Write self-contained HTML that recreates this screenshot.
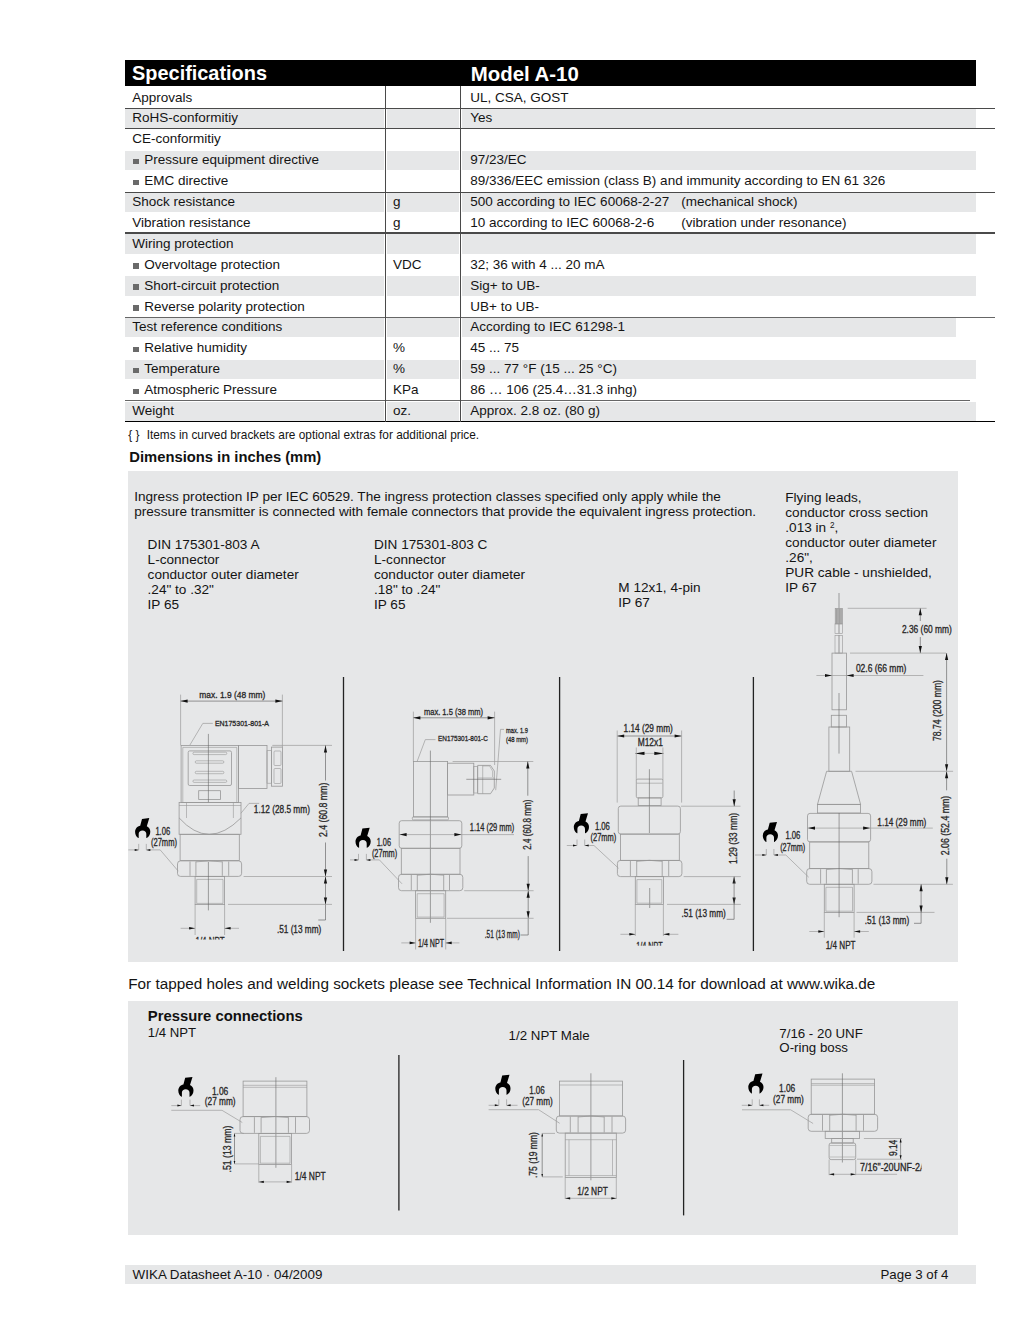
<!DOCTYPE html>
<html><head><meta charset="utf-8"><style>
html,body{margin:0;padding:0;background:#fff;}
body{width:1024px;height:1324px;position:relative;overflow:hidden;font-family:"Liberation Sans",sans-serif;}
.t{position:absolute;white-space:pre;line-height:1;}
sup{font-size:60%;vertical-align:0;position:relative;top:-0.45em;}
</style></head><body>
<div style="position:absolute;left:125.00px;top:59.50px;width:850.80px;height:26.40px;background:#000"></div>
<div class="t" style="left:132.10px;top:64.45px;font-size:19.9px;font-weight:bold;color:#fff;">Specifications</div>
<div class="t" style="left:470.80px;top:64.03px;font-size:20.4px;font-weight:bold;color:#fff;">Model A-10</div>
<div class="t" style="left:132.20px;top:90.57px;font-size:13.5px;color:#141414;">Approvals</div>
<div class="t" style="left:470.30px;top:90.57px;font-size:13.5px;color:#141414;">UL, CSA, GOST</div>
<div style="position:absolute;left:125.00px;top:108.90px;width:259.20px;height:19.50px;background:#e6e7e8"></div>
<div style="position:absolute;left:387.00px;top:108.90px;width:71.80px;height:19.50px;background:#e6e7e8"></div>
<div style="position:absolute;left:461.80px;top:108.90px;width:514.00px;height:19.50px;background:#e6e7e8"></div>
<div class="t" style="left:132.20px;top:111.47px;font-size:13.5px;color:#141414;">RoHS-conformitiy</div>
<div class="t" style="left:470.30px;top:111.47px;font-size:13.5px;color:#141414;">Yes</div>
<div class="t" style="left:132.20px;top:132.37px;font-size:13.5px;color:#141414;">CE-conformitiy</div>
<div style="position:absolute;left:125.00px;top:150.70px;width:259.20px;height:19.50px;background:#e6e7e8"></div>
<div style="position:absolute;left:387.00px;top:150.70px;width:71.80px;height:19.50px;background:#e6e7e8"></div>
<div style="position:absolute;left:461.80px;top:150.70px;width:514.00px;height:19.50px;background:#e6e7e8"></div>
<div style="position:absolute;left:133.00px;top:158.70px;width:6.00px;height:5.60px;background:#6a6a6a"></div>
<div class="t" style="left:144.30px;top:153.27px;font-size:13.5px;color:#141414;">Pressure equipment directive</div>
<div class="t" style="left:470.30px;top:153.27px;font-size:13.5px;color:#141414;">97/23/EC</div>
<div style="position:absolute;left:133.00px;top:179.60px;width:6.00px;height:5.60px;background:#6a6a6a"></div>
<div class="t" style="left:144.30px;top:174.17px;font-size:13.5px;color:#141414;">EMC directive</div>
<div class="t" style="left:470.30px;top:174.17px;font-size:13.5px;color:#141414;">89/336/EEC emission (class B) and immunity according to EN 61 326</div>
<div style="position:absolute;left:125.00px;top:192.50px;width:259.20px;height:19.50px;background:#e6e7e8"></div>
<div style="position:absolute;left:387.00px;top:192.50px;width:71.80px;height:19.50px;background:#e6e7e8"></div>
<div style="position:absolute;left:461.80px;top:192.50px;width:514.00px;height:19.50px;background:#e6e7e8"></div>
<div class="t" style="left:132.20px;top:195.07px;font-size:13.5px;color:#141414;">Shock resistance</div>
<div class="t" style="left:393.00px;top:195.07px;font-size:13.5px;color:#141414;">g</div>
<div class="t" style="left:470.30px;top:195.07px;font-size:13.5px;color:#141414;">500 according to IEC 60068-2-27</div>
<div class="t" style="left:132.20px;top:215.97px;font-size:13.5px;color:#141414;">Vibration resistance</div>
<div class="t" style="left:393.00px;top:215.97px;font-size:13.5px;color:#141414;">g</div>
<div class="t" style="left:470.30px;top:215.97px;font-size:13.5px;color:#141414;">10 according to IEC 60068-2-6</div>
<div style="position:absolute;left:125.00px;top:234.30px;width:259.20px;height:19.50px;background:#e6e7e8"></div>
<div style="position:absolute;left:387.00px;top:234.30px;width:71.80px;height:19.50px;background:#e6e7e8"></div>
<div style="position:absolute;left:461.80px;top:234.30px;width:514.00px;height:19.50px;background:#e6e7e8"></div>
<div class="t" style="left:132.20px;top:236.87px;font-size:13.5px;color:#141414;">Wiring protection</div>
<div style="position:absolute;left:133.00px;top:263.20px;width:6.00px;height:5.60px;background:#6a6a6a"></div>
<div class="t" style="left:144.30px;top:257.77px;font-size:13.5px;color:#141414;">Overvoltage protection</div>
<div class="t" style="left:393.00px;top:257.77px;font-size:13.5px;color:#141414;">VDC</div>
<div class="t" style="left:470.30px;top:257.77px;font-size:13.5px;color:#141414;">32; 36 with 4 ... 20 mA</div>
<div style="position:absolute;left:125.00px;top:276.10px;width:259.20px;height:19.50px;background:#e6e7e8"></div>
<div style="position:absolute;left:387.00px;top:276.10px;width:71.80px;height:19.50px;background:#e6e7e8"></div>
<div style="position:absolute;left:461.80px;top:276.10px;width:514.00px;height:19.50px;background:#e6e7e8"></div>
<div style="position:absolute;left:133.00px;top:284.10px;width:6.00px;height:5.60px;background:#6a6a6a"></div>
<div class="t" style="left:144.30px;top:278.67px;font-size:13.5px;color:#141414;">Short-circuit protection</div>
<div class="t" style="left:470.30px;top:278.67px;font-size:13.5px;color:#141414;">Sig+ to UB-</div>
<div style="position:absolute;left:133.00px;top:305.00px;width:6.00px;height:5.60px;background:#6a6a6a"></div>
<div class="t" style="left:144.30px;top:299.57px;font-size:13.5px;color:#141414;">Reverse polarity protection</div>
<div class="t" style="left:470.30px;top:299.57px;font-size:13.5px;color:#141414;">UB+ to UB-</div>
<div style="position:absolute;left:125.00px;top:317.90px;width:259.20px;height:19.50px;background:#e6e7e8"></div>
<div style="position:absolute;left:387.00px;top:317.90px;width:71.80px;height:19.50px;background:#e6e7e8"></div>
<div style="position:absolute;left:461.80px;top:317.90px;width:493.80px;height:19.50px;background:#e6e7e8"></div>
<div class="t" style="left:132.20px;top:320.47px;font-size:13.5px;color:#141414;">Test reference conditions</div>
<div class="t" style="left:470.30px;top:320.47px;font-size:13.5px;color:#141414;">According to IEC 61298-1</div>
<div style="position:absolute;left:133.00px;top:346.80px;width:6.00px;height:5.60px;background:#6a6a6a"></div>
<div class="t" style="left:144.30px;top:341.37px;font-size:13.5px;color:#141414;">Relative humidity</div>
<div class="t" style="left:393.00px;top:341.37px;font-size:13.5px;color:#141414;">%</div>
<div class="t" style="left:470.30px;top:341.37px;font-size:13.5px;color:#141414;">45 ... 75</div>
<div style="position:absolute;left:125.00px;top:359.70px;width:259.20px;height:19.50px;background:#e6e7e8"></div>
<div style="position:absolute;left:387.00px;top:359.70px;width:71.80px;height:19.50px;background:#e6e7e8"></div>
<div style="position:absolute;left:461.80px;top:359.70px;width:514.00px;height:19.50px;background:#e6e7e8"></div>
<div style="position:absolute;left:133.00px;top:367.70px;width:6.00px;height:5.60px;background:#6a6a6a"></div>
<div class="t" style="left:144.30px;top:362.27px;font-size:13.5px;color:#141414;">Temperature</div>
<div class="t" style="left:393.00px;top:362.27px;font-size:13.5px;color:#141414;">%</div>
<div class="t" style="left:470.30px;top:362.27px;font-size:13.5px;color:#141414;">59 ... 77 °F (15 ... 25 °C)</div>
<div style="position:absolute;left:133.00px;top:388.60px;width:6.00px;height:5.60px;background:#6a6a6a"></div>
<div class="t" style="left:144.30px;top:383.17px;font-size:13.5px;color:#141414;">Atmospheric Pressure</div>
<div class="t" style="left:393.00px;top:383.17px;font-size:13.5px;color:#141414;">KPa</div>
<div class="t" style="left:470.30px;top:383.17px;font-size:13.5px;color:#141414;">86 … 106 (25.4…31.3 inhg)</div>
<div style="position:absolute;left:125.00px;top:401.50px;width:259.20px;height:19.50px;background:#e6e7e8"></div>
<div style="position:absolute;left:387.00px;top:401.50px;width:71.80px;height:19.50px;background:#e6e7e8"></div>
<div style="position:absolute;left:461.80px;top:401.50px;width:514.00px;height:19.50px;background:#e6e7e8"></div>
<div class="t" style="left:132.20px;top:404.07px;font-size:13.5px;color:#141414;">Weight</div>
<div class="t" style="left:393.00px;top:404.07px;font-size:13.5px;color:#141414;">oz.</div>
<div class="t" style="left:470.30px;top:404.07px;font-size:13.5px;color:#141414;">Approx. 2.8 oz. (80 g)</div>
<div class="t" style="left:681.30px;top:195.07px;font-size:13.5px;color:#141414;">(mechanical shock)</div>
<div class="t" style="left:681.30px;top:215.97px;font-size:13.5px;color:#141414;">(vibration under resonance)</div>
<div style="position:absolute;left:125.00px;top:107.55px;width:870.20px;height:1.30px;background:#4a4a4a"></div>
<div style="position:absolute;left:125.00px;top:127.65px;width:870.20px;height:1.30px;background:#4a4a4a"></div>
<div style="position:absolute;left:125.00px;top:192.05px;width:870.20px;height:1.30px;background:#4a4a4a"></div>
<div style="position:absolute;left:125.00px;top:232.45px;width:870.20px;height:1.30px;background:#4a4a4a"></div>
<div style="position:absolute;left:125.00px;top:317.15px;width:870.20px;height:1.30px;background:#666"></div>
<div style="position:absolute;left:125.00px;top:400.05px;width:844.80px;height:1.30px;background:#666"></div>
<div style="position:absolute;left:125.00px;top:420.80px;width:870.20px;height:1.60px;background:#000"></div>
<div style="position:absolute;left:385.00px;top:85.90px;width:1.30px;height:335.70px;background:#4a4a4a"></div>
<div style="position:absolute;left:459.70px;top:85.90px;width:1.30px;height:335.70px;background:#4a4a4a"></div>
<div class="t" style="left:128.20px;top:430.27px;font-size:11.85px;color:#141414;">{ }</div>
<div class="t" style="left:146.70px;top:430.27px;font-size:11.85px;color:#141414;">Items in curved brackets are optional extras for additional price.</div>
<div class="t" style="left:129.30px;top:449.89px;font-size:14.78px;font-weight:bold;color:#111;">Dimensions in inches (mm)</div>
<div style="position:absolute;left:128.20px;top:470.90px;width:829.60px;height:491.10px;background:#e6e7e8"></div>
<div class="t" style="left:134.20px;top:489.99px;font-size:13.6px;color:#141414;">Ingress protection IP per IEC 60529. The ingress protection classes specified only apply while the</div>
<div class="t" style="left:134.20px;top:504.79px;font-size:13.6px;color:#141414;">pressure transmitter is connected with female connectors that provide the equivalent ingress protection.</div>
<div class="t" style="left:147.60px;top:538.39px;font-size:13.6px;color:#141414;">DIN 175301-803 A</div>
<div class="t" style="left:147.60px;top:553.29px;font-size:13.6px;color:#141414;">L-connector</div>
<div class="t" style="left:147.60px;top:568.19px;font-size:13.6px;color:#141414;">conductor outer diameter</div>
<div class="t" style="left:147.60px;top:583.09px;font-size:13.6px;color:#141414;">.24&quot; to .32&quot;</div>
<div class="t" style="left:147.60px;top:597.99px;font-size:13.6px;color:#141414;">IP 65</div>
<div class="t" style="left:374.00px;top:538.39px;font-size:13.6px;color:#141414;">DIN 175301-803 C</div>
<div class="t" style="left:374.00px;top:553.29px;font-size:13.6px;color:#141414;">L-connector</div>
<div class="t" style="left:374.00px;top:568.19px;font-size:13.6px;color:#141414;">conductor outer diameter</div>
<div class="t" style="left:374.00px;top:583.09px;font-size:13.6px;color:#141414;">.18&quot; to .24&quot;</div>
<div class="t" style="left:374.00px;top:597.99px;font-size:13.6px;color:#141414;">IP 65</div>
<div class="t" style="left:618.30px;top:580.79px;font-size:13.6px;color:#141414;">M 12x1, 4-pin</div>
<div class="t" style="left:618.30px;top:595.69px;font-size:13.6px;color:#141414;">IP 67</div>
<div class="t" style="left:785.30px;top:490.79px;font-size:13.6px;color:#141414;">Flying leads,</div>
<div class="t" style="left:785.30px;top:505.79px;font-size:13.6px;color:#141414;">conductor cross section</div>
<div class="t" style="left:785.30px;top:520.79px;font-size:13.6px;color:#141414;">.013 in <sup>2</sup>,</div>
<div class="t" style="left:785.30px;top:535.79px;font-size:13.6px;color:#141414;">conductor outer diameter</div>
<div class="t" style="left:785.30px;top:550.79px;font-size:13.6px;color:#141414;">.26&quot;,</div>
<div class="t" style="left:785.30px;top:565.79px;font-size:13.6px;color:#141414;">PUR cable - unshielded,</div>
<div class="t" style="left:785.30px;top:580.79px;font-size:13.6px;color:#141414;">IP 67</div>
<div class="t" style="left:128.20px;top:975.55px;font-size:15.3px;color:#141414;">For tapped holes and welding sockets please see Technical Information IN 00.14 for download at www.wika.de</div>
<div style="position:absolute;left:128.20px;top:1001.00px;width:829.60px;height:234.00px;background:#e6e7e8"></div>
<div class="t" style="left:147.80px;top:1008.65px;font-size:14.83px;font-weight:bold;color:#111;">Pressure connections</div>
<div class="t" style="left:147.80px;top:1025.93px;font-size:13.2px;color:#141414;">1/4 NPT</div>
<div class="t" style="left:508.60px;top:1029.24px;font-size:13.3px;color:#141414;">1/2 NPT Male</div>
<div class="t" style="left:779.30px;top:1026.54px;font-size:13.3px;color:#141414;">7/16 - 20 UNF</div>
<div class="t" style="left:779.30px;top:1040.94px;font-size:13.3px;color:#141414;">O-ring boss</div>
<div style="position:absolute;left:124.70px;top:1265.10px;width:851.10px;height:18.70px;background:#e6e7e8"></div>
<div class="t" style="left:132.60px;top:1267.56px;font-size:13.4px;color:#141414;">WIKA Datasheet A-10 · 04/2009</div>
<div class="t" style="left:880.50px;top:1267.74px;font-size:13.3px;color:#141414;">Page 3 of 4</div>
<svg width="1024" height="1324" viewBox="0 0 1024 1324" font-family="Liberation Sans, sans-serif" style="position:absolute;left:0;top:0;white-space:pre"><line x1="180.6" y1="694.6" x2="180.6" y2="745.4" stroke="#9c9c9c" stroke-width="0.7"/><line x1="282.4" y1="694.6" x2="282.4" y2="747" stroke="#9c9c9c" stroke-width="0.7"/><line x1="180.6" y1="701.1" x2="282.4" y2="701.1" stroke="#555" stroke-width="0.6"/><polygon points="180.60,701.10 187.60,699.50 187.60,702.70" fill="#111"/><polygon points="282.40,701.10 275.40,699.50 275.40,702.70" fill="#111"/><text x="199.3" y="697.6" font-size="9.3" fill="#262626" stroke="#262626" stroke-width="0.3" textLength="66" lengthAdjust="spacingAndGlyphs">max. 1.9 (48 mm)</text><polyline points="189.9,745 202.8,723.4 212.8,723.4" fill="none" stroke="#9c9c9c" stroke-width="0.7"/><text x="214.9" y="725.5" font-size="8" fill="#262626" stroke="#262626" stroke-width="0.3" textLength="54" lengthAdjust="spacingAndGlyphs">EN175301-801-A</text><rect x="181.1" y="745.4" width="57.50" height="57.10" rx="0" fill="none" stroke="#979797" stroke-width="0.8"/><line x1="182.8" y1="747.4" x2="182.8" y2="802.5" stroke="#979797" stroke-width="0.6"/><line x1="236.8" y1="747.4" x2="236.8" y2="802.5" stroke="#979797" stroke-width="0.6"/><line x1="182.8" y1="747.4" x2="236.8" y2="747.4" stroke="#979797" stroke-width="0.6"/><rect x="188.2" y="750.9" width="43.30" height="34.60" rx="1.5" fill="none" stroke="#979797" stroke-width="0.8"/><rect x="192.9" y="752.2" width="33.90" height="2.40" rx="1.2" fill="none" stroke="#979797" stroke-width="0.6"/><rect x="195.2" y="760.8" width="28.70" height="2.40" rx="1.2" fill="none" stroke="#979797" stroke-width="0.6"/><rect x="195.2" y="771.3" width="28.70" height="2.40" rx="1.2" fill="none" stroke="#979797" stroke-width="0.6"/><rect x="192.9" y="780.0" width="33.90" height="2.40" rx="1.2" fill="none" stroke="#979797" stroke-width="0.6"/><rect x="198.7" y="790.7" width="21.90" height="8.80" rx="0" fill="none" stroke="#979797" stroke-width="0.8"/><line x1="208.4" y1="733.9" x2="208.4" y2="802.5" stroke="#666" stroke-width="0.6"/><rect x="238.6" y="745.4" width="28.40" height="43.00" rx="0" fill="none" stroke="#979797" stroke-width="0.8"/><rect x="267" y="750.7" width="4.40" height="32.50" rx="0" fill="none" stroke="#979797" stroke-width="0.6"/><rect x="271.4" y="747.1" width="11.00" height="39.10" rx="0" fill="none" stroke="#979797" stroke-width="0.8"/><rect x="274" y="751" width="7.00" height="14.50" rx="1" fill="none" stroke="#979797" stroke-width="0.6"/><rect x="274" y="768.5" width="7.00" height="15.00" rx="1" fill="none" stroke="#979797" stroke-width="0.6"/><rect x="179.1" y="802.5" width="61.90" height="31.80" rx="0" fill="none" stroke="#979797" stroke-width="0.8"/><line x1="179.1" y1="805.5" x2="241" y2="805.5" stroke="#979797" stroke-width="0.6"/><line x1="186.5" y1="802.5" x2="186.5" y2="818" stroke="#979797" stroke-width="0.6"/><line x1="233.4" y1="802.5" x2="233.4" y2="818" stroke="#979797" stroke-width="0.6"/><path d="M179.1,817.9 Q208.5,850.7 241,817.9" fill="none" stroke="#979797" stroke-width="0.8"/><rect x="180.1" y="834.3" width="59.20" height="26.30" rx="0" fill="none" stroke="#979797" stroke-width="0.8"/><rect x="177.5" y="860.9" width="64.10" height="15.50" rx="3" fill="none" stroke="#979797" stroke-width="0.8"/><line x1="190" y1="861.5" x2="190" y2="875.8" stroke="#979797" stroke-width="0.8"/><line x1="195.9" y1="861.5" x2="195.9" y2="875.8" stroke="#979797" stroke-width="0.8"/><line x1="222.3" y1="861.5" x2="222.3" y2="875.8" stroke="#979797" stroke-width="0.8"/><line x1="228.7" y1="861.5" x2="228.7" y2="875.8" stroke="#979797" stroke-width="0.8"/><path d="M195.9,861.9 Q209.10000000000002,859.6999999999999 222.3,861.9" fill="none" stroke="#979797" stroke-width="0.7"/><rect x="195.1" y="876.4" width="29.50" height="28.20" rx="0" fill="none" stroke="#979797" stroke-width="0.8"/><line x1="196.7" y1="879.4" x2="196.7" y2="903.6" stroke="#979797" stroke-width="0.6"/><line x1="223.0" y1="879.4" x2="223.0" y2="903.6" stroke="#979797" stroke-width="0.6"/><line x1="196.7" y1="879.4" x2="223.0" y2="879.4" stroke="#979797" stroke-width="0.6"/><line x1="196.7" y1="903.4" x2="223.0" y2="903.4" stroke="#979797" stroke-width="0.6"/><line x1="208.4" y1="862" x2="208.4" y2="910.4" stroke="#666" stroke-width="0.6"/><line x1="195.1" y1="904.6" x2="195.1" y2="935" stroke="#9c9c9c" stroke-width="0.7"/><line x1="224.6" y1="904.6" x2="224.6" y2="935" stroke="#9c9c9c" stroke-width="0.7"/><line x1="180.6" y1="928.3" x2="195.1" y2="928.3" stroke="#9c9c9c" stroke-width="0.7"/><polygon points="195.10,928.30 189.10,927.00 189.10,929.60" fill="#111"/><line x1="224.6" y1="928.3" x2="239" y2="928.3" stroke="#9c9c9c" stroke-width="0.7"/><polygon points="224.60,928.30 230.60,927.00 230.60,929.60" fill="#111"/><clipPath id="c1"><rect x="150" y="930" width="120" height="9.6"/></clipPath><text x="195.5" y="944.5" font-size="10" fill="#262626" stroke="#262626" stroke-width="0.3" textLength="29" lengthAdjust="spacingAndGlyphs" clip-path="url(#c1)">1/4 NPT</text><path transform="translate(135.1,818.1) scale(1.0)" d="M6.9,0.8 L14.2,0 L11.7,8.2 C14,9.3 15.2,11.3 15.2,13.6 C15.2,16.5 13.8,18.8 11.6,19.9 L11.2,19.9 L11.2,15.6 C11.2,13.6 9.6,12.3 7.4,12.3 C5.2,12.3 3.6,13.6 3.6,15.6 L3.6,19.9 L3.2,19.9 C1.2,18.8 0,16.5 0,13.6 C0,10.6 2.2,8.2 5.1,7.6 Z" fill="#000"/><text x="155.4" y="834.6" font-size="10" fill="#262626" stroke="#262626" stroke-width="0.3" textLength="14.8" lengthAdjust="spacingAndGlyphs">1.06</text><text x="150.9" y="845.5" font-size="10" fill="#262626" stroke="#262626" stroke-width="0.3" textLength="26.1" lengthAdjust="spacingAndGlyphs">(27mm)</text><line x1="128.3" y1="849.9" x2="138.7" y2="849.9" stroke="#9c9c9c" stroke-width="0.7"/><line x1="146.3" y1="849.9" x2="160.2" y2="849.9" stroke="#9c9c9c" stroke-width="0.7"/><line x1="138.7" y1="843.9" x2="138.7" y2="849.9" stroke="#9c9c9c" stroke-width="0.7"/><line x1="146.3" y1="843.9" x2="146.3" y2="849.9" stroke="#9c9c9c" stroke-width="0.7"/><polygon points="138.70,849.90 134.70,848.90 134.70,850.90" fill="#111"/><polygon points="146.30,849.90 150.30,848.90 150.30,850.90" fill="#111"/><line x1="160.2" y1="849.9" x2="178.3" y2="871.2" stroke="#9c9c9c" stroke-width="0.7"/><text x="253.8" y="813.3" font-size="10" fill="#262626" stroke="#262626" stroke-width="0.3" textLength="56.1" lengthAdjust="spacingAndGlyphs">1.12 (28.5 mm)</text><polyline points="240.9,813.3 249,803.4 259.2,803.4" fill="none" stroke="#9c9c9c" stroke-width="0.7"/><line x1="272.3" y1="745.4" x2="332" y2="745.4" stroke="#9c9c9c" stroke-width="0.7"/><line x1="325.5" y1="745.4" x2="325.5" y2="780.5" stroke="#555" stroke-width="0.6"/><polygon points="325.50,745.40 323.90,752.40 327.10,752.40" fill="#111"/><text transform="translate(327.4,837) rotate(-90)" x="0" y="0" font-size="10.5" fill="#262626" stroke="#262626" stroke-width="0.3" textLength="54.3" lengthAdjust="spacingAndGlyphs">2.4  (60.8 mm)</text><line x1="325.5" y1="842.5" x2="325.5" y2="920" stroke="#555" stroke-width="0.6"/><line x1="318.3" y1="920" x2="325.5" y2="920" stroke="#555" stroke-width="0.6"/><polygon points="325.50,876.50 323.90,869.50 327.10,869.50" fill="#111"/><polygon points="325.50,876.50 323.90,883.50 327.10,883.50" fill="#111"/><polygon points="325.50,904.40 323.90,897.40 327.10,897.40" fill="#111"/><line x1="243.6" y1="876.5" x2="332" y2="876.5" stroke="#9c9c9c" stroke-width="0.7"/><line x1="228" y1="904.4" x2="332" y2="904.4" stroke="#9c9c9c" stroke-width="0.7"/><text x="276.9" y="932.9" font-size="10" fill="#262626" stroke="#262626" stroke-width="0.3" textLength="44.4" lengthAdjust="spacingAndGlyphs">.51 (13 mm)</text><line x1="343.5" y1="677" x2="343.5" y2="951" stroke="#222" stroke-width="1.3"/><line x1="413.4" y1="711.6" x2="413.4" y2="761.5" stroke="#9c9c9c" stroke-width="0.7"/><line x1="494.6" y1="711.6" x2="494.6" y2="765" stroke="#9c9c9c" stroke-width="0.7"/><line x1="413.4" y1="717.8" x2="494.6" y2="717.8" stroke="#555" stroke-width="0.6"/><polygon points="413.40,717.80 420.40,716.20 420.40,719.40" fill="#111"/><polygon points="494.60,717.80 487.60,716.20 487.60,719.40" fill="#111"/><text x="423.9" y="715" font-size="9.3" fill="#262626" stroke="#262626" stroke-width="0.3" textLength="59.2" lengthAdjust="spacingAndGlyphs">max. 1.5 (38 mm)</text><polyline points="417.1,761.5 425.3,739.6 435.5,739.6" fill="none" stroke="#9c9c9c" stroke-width="0.7"/><text x="438" y="741.4" font-size="8" fill="#262626" stroke="#262626" stroke-width="0.3" textLength="49.8" lengthAdjust="spacingAndGlyphs">EN175301-801-C</text><text x="506" y="732.8" font-size="8" fill="#262626" stroke="#262626" stroke-width="0.3" textLength="21.8" lengthAdjust="spacingAndGlyphs">max. 1.9</text><text x="506" y="741.7" font-size="8" fill="#262626" stroke="#262626" stroke-width="0.3" textLength="22" lengthAdjust="spacingAndGlyphs">(48 mm)</text><polyline points="495.7,790.2 500.5,729.4 504,729.4" fill="none" stroke="#9c9c9c" stroke-width="0.7"/><rect x="413.4" y="761.5" width="34.20" height="55.40" rx="0" fill="none" stroke="#979797" stroke-width="0.8"/><rect x="412.3" y="816.9" width="36.20" height="3.00" rx="1" fill="none" stroke="#979797" stroke-width="0.7"/><line x1="452.6" y1="761.5" x2="533.3" y2="761.5" stroke="#9c9c9c" stroke-width="0.7"/><rect x="447.6" y="763.2" width="26.20" height="31.80" rx="0" fill="none" stroke="#979797" stroke-width="0.8"/><rect x="473.8" y="766.3" width="3.90" height="26.70" rx="0" fill="none" stroke="#979797" stroke-width="0.6"/><path d="M477.7,765.4 L490.5,765.4 L494.3,771 L494.3,788 L490.5,793.7 L477.7,793.7 Z" fill="none" stroke="#979797" stroke-width="0.8"/><line x1="482.7" y1="765.4" x2="482.7" y2="793.7" stroke="#979797" stroke-width="0.6"/><line x1="477.7" y1="778" x2="494.3" y2="778" stroke="#979797" stroke-width="0.6"/><path d="M482.7,766 L489.5,766 L492.5,771 L492.5,777" fill="none" stroke="#979797" stroke-width="0.5"/><line x1="466.3" y1="779.3" x2="501.2" y2="779.3" stroke="#666" stroke-width="0.6"/><line x1="430.4" y1="750.6" x2="430.4" y2="922.8" stroke="#666" stroke-width="0.6"/><line x1="527.8" y1="761.5" x2="527.8" y2="795.7" stroke="#555" stroke-width="0.6"/><polygon points="527.80,761.50 526.20,768.50 529.40,768.50" fill="#111"/><text transform="translate(530.8,849.7) rotate(-90)" x="0" y="0" font-size="10.5" fill="#262626" stroke="#262626" stroke-width="0.3" textLength="50.1" lengthAdjust="spacingAndGlyphs">2.4  (60.8 mm)</text><line x1="528.2" y1="856.1" x2="528.2" y2="935" stroke="#555" stroke-width="0.6"/><line x1="520.5" y1="935" x2="528.2" y2="935" stroke="#555" stroke-width="0.6"/><polygon points="528.20,890.70 526.60,883.70 529.80,883.70" fill="#111"/><polygon points="528.20,890.70 526.60,897.70 529.80,897.70" fill="#111"/><polygon points="528.20,918.30 526.60,911.30 529.80,911.30" fill="#111"/><rect x="399.2" y="820.7" width="62.60" height="27.60" rx="2.5" fill="none" stroke="#979797" stroke-width="0.8"/><line x1="399.2" y1="834.6" x2="514" y2="834.6" stroke="#9c9c9c" stroke-width="0.7"/><polygon points="399.60,834.60 406.60,833.00 406.60,836.20" fill="#111"/><polygon points="461.40,834.60 454.40,833.00 454.40,836.20" fill="#111"/><text x="469.8" y="831.3" font-size="10" fill="#262626" stroke="#262626" stroke-width="0.3" textLength="44.5" lengthAdjust="spacingAndGlyphs">1.14 (29 mm)</text><rect x="401.3" y="848.3" width="58.70" height="26.00" rx="0" fill="none" stroke="#979797" stroke-width="0.8"/><rect x="398.5" y="874.3" width="64.30" height="16.40" rx="3" fill="none" stroke="#979797" stroke-width="0.8"/><line x1="411.3" y1="874.9" x2="411.3" y2="890.1" stroke="#979797" stroke-width="0.8"/><line x1="417.3" y1="874.9" x2="417.3" y2="890.1" stroke="#979797" stroke-width="0.8"/><line x1="443.7" y1="874.9" x2="443.7" y2="890.1" stroke="#979797" stroke-width="0.8"/><line x1="449.5" y1="874.9" x2="449.5" y2="890.1" stroke="#979797" stroke-width="0.8"/><path d="M417.3,875.3 Q430.5,873.0999999999999 443.7,875.3" fill="none" stroke="#979797" stroke-width="0.7"/><rect x="415.6" y="890.7" width="30.10" height="27.60" rx="0" fill="none" stroke="#979797" stroke-width="0.8"/><line x1="417.20000000000005" y1="893.7" x2="417.20000000000005" y2="917.3" stroke="#979797" stroke-width="0.6"/><line x1="444.09999999999997" y1="893.7" x2="444.09999999999997" y2="917.3" stroke="#979797" stroke-width="0.6"/><line x1="417.20000000000005" y1="893.7" x2="444.09999999999997" y2="893.7" stroke="#979797" stroke-width="0.6"/><line x1="417.20000000000005" y1="917.0999999999999" x2="444.09999999999997" y2="917.0999999999999" stroke="#979797" stroke-width="0.6"/><line x1="415.6" y1="918.3" x2="415.6" y2="949.5" stroke="#9c9c9c" stroke-width="0.7"/><line x1="445.7" y1="918.3" x2="445.7" y2="949.5" stroke="#9c9c9c" stroke-width="0.7"/><line x1="401.3" y1="942.9" x2="415.6" y2="942.9" stroke="#9c9c9c" stroke-width="0.7"/><polygon points="415.60,942.90 409.60,941.60 409.60,944.20" fill="#111"/><line x1="445.7" y1="942.9" x2="459.4" y2="942.9" stroke="#9c9c9c" stroke-width="0.7"/><polygon points="445.70,942.90 451.70,941.60 451.70,944.20" fill="#111"/><text x="418" y="946.7" font-size="10" fill="#262626" stroke="#262626" stroke-width="0.3" textLength="26" lengthAdjust="spacingAndGlyphs">1/4 NPT</text><line x1="464.2" y1="890.7" x2="533.6" y2="890.7" stroke="#9c9c9c" stroke-width="0.7"/><line x1="447" y1="918.3" x2="533.6" y2="918.3" stroke="#9c9c9c" stroke-width="0.7"/><text x="484.8" y="937.6" font-size="10" fill="#262626" stroke="#262626" stroke-width="0.3" textLength="35" lengthAdjust="spacingAndGlyphs">.51 (13 mm)</text><path transform="translate(355.5,827.8) scale(1.0)" d="M6.9,0.8 L14.2,0 L11.7,8.2 C14,9.3 15.2,11.3 15.2,13.6 C15.2,16.5 13.8,18.8 11.6,19.9 L11.2,19.9 L11.2,15.6 C11.2,13.6 9.6,12.3 7.4,12.3 C5.2,12.3 3.6,13.6 3.6,15.6 L3.6,19.9 L3.2,19.9 C1.2,18.8 0,16.5 0,13.6 C0,10.6 2.2,8.2 5.1,7.6 Z" fill="#000"/><text x="376.7" y="846.2" font-size="10" fill="#262626" stroke="#262626" stroke-width="0.3" textLength="14.3" lengthAdjust="spacingAndGlyphs">1.06</text><text x="371.9" y="856.5" font-size="10" fill="#262626" stroke="#262626" stroke-width="0.3" textLength="25.3" lengthAdjust="spacingAndGlyphs">(27mm)</text><line x1="350" y1="859.9" x2="358.5" y2="859.9" stroke="#9c9c9c" stroke-width="0.7"/><line x1="366.4" y1="859.9" x2="379.4" y2="859.9" stroke="#9c9c9c" stroke-width="0.7"/><line x1="358.5" y1="853.9" x2="358.5" y2="859.9" stroke="#9c9c9c" stroke-width="0.7"/><line x1="366.4" y1="853.9" x2="366.4" y2="859.9" stroke="#9c9c9c" stroke-width="0.7"/><polygon points="358.50,859.90 354.50,858.90 354.50,860.90" fill="#111"/><polygon points="366.40,859.90 370.40,858.90 370.40,860.90" fill="#111"/><line x1="379.4" y1="859.9" x2="402" y2="883.8" stroke="#9c9c9c" stroke-width="0.7"/><line x1="559.6" y1="677" x2="559.6" y2="951" stroke="#222" stroke-width="1.3"/><text x="623.6" y="731.7" font-size="10" fill="#262626" stroke="#262626" stroke-width="0.3" textLength="49.2" lengthAdjust="spacingAndGlyphs">1.14 (29 mm)</text><line x1="617.2" y1="736" x2="681.6" y2="736" stroke="#555" stroke-width="0.6"/><polygon points="617.20,736.00 624.20,734.40 624.20,737.60" fill="#111"/><polygon points="681.60,736.00 674.60,734.40 674.60,737.60" fill="#111"/><line x1="617.2" y1="730.5" x2="617.2" y2="802.6" stroke="#9c9c9c" stroke-width="0.7"/><line x1="681.6" y1="730.5" x2="681.6" y2="802.6" stroke="#9c9c9c" stroke-width="0.7"/><text x="637.7" y="746.3" font-size="10" fill="#262626" stroke="#262626" stroke-width="0.3" textLength="25.2" lengthAdjust="spacingAndGlyphs">M12x1</text><line x1="635" y1="753.4" x2="663.8" y2="753.4" stroke="#9c9c9c" stroke-width="0.6"/><polygon points="635.00,753.40 644.50,751.80 644.50,755.00" fill="#111"/><polygon points="663.80,753.40 654.30,751.80 654.30,755.00" fill="#111"/><line x1="636.3" y1="747.5" x2="636.3" y2="780.3" stroke="#9c9c9c" stroke-width="0.7"/><line x1="662.9" y1="747.5" x2="662.9" y2="780.3" stroke="#9c9c9c" stroke-width="0.7"/><rect x="636.3" y="779.1" width="26.60" height="18.80" rx="1.5" fill="none" stroke="#979797" stroke-width="0.8"/><line x1="636.8" y1="783.2" x2="662.4" y2="783.2" stroke="#979797" stroke-width="0.6"/><rect x="638.2" y="797.9" width="22.90" height="7.60" rx="0" fill="none" stroke="#979797" stroke-width="0.8"/><line x1="649.4" y1="769.2" x2="649.4" y2="833" stroke="#666" stroke-width="0.6"/><line x1="649.7" y1="888" x2="649.7" y2="908" stroke="#666" stroke-width="0.6"/><rect x="618.3" y="806.1" width="62.10" height="28.00" rx="2.5" fill="none" stroke="#979797" stroke-width="0.8"/><rect x="620.4" y="834.1" width="58.90" height="26.30" rx="0" fill="none" stroke="#979797" stroke-width="0.8"/><rect x="617.4" y="860.4" width="64.50" height="16.20" rx="3" fill="none" stroke="#979797" stroke-width="0.8"/><line x1="630.4" y1="861.0" x2="630.4" y2="876.0" stroke="#979797" stroke-width="0.8"/><line x1="636.7" y1="861.0" x2="636.7" y2="876.0" stroke="#979797" stroke-width="0.8"/><line x1="662.2" y1="861.0" x2="662.2" y2="876.0" stroke="#979797" stroke-width="0.8"/><line x1="668.7" y1="861.0" x2="668.7" y2="876.0" stroke="#979797" stroke-width="0.8"/><path d="M636.7,861.4 Q649.45,859.1999999999999 662.2,861.4" fill="none" stroke="#979797" stroke-width="0.7"/><rect x="635.3" y="876.6" width="28.10" height="27.80" rx="0" fill="none" stroke="#979797" stroke-width="0.8"/><line x1="636.9" y1="879.6" x2="636.9" y2="903.4" stroke="#979797" stroke-width="0.6"/><line x1="661.8" y1="879.6" x2="661.8" y2="903.4" stroke="#979797" stroke-width="0.6"/><line x1="636.9" y1="879.6" x2="661.8" y2="879.6" stroke="#979797" stroke-width="0.6"/><line x1="636.9" y1="903.1999999999999" x2="661.8" y2="903.1999999999999" stroke="#979797" stroke-width="0.6"/><line x1="635.3" y1="904.4" x2="635.3" y2="936" stroke="#9c9c9c" stroke-width="0.7"/><line x1="663.4" y1="904.4" x2="663.4" y2="936" stroke="#9c9c9c" stroke-width="0.7"/><line x1="620.4" y1="934.3" x2="635.3" y2="934.3" stroke="#9c9c9c" stroke-width="0.7"/><polygon points="635.30,934.30 629.30,933.00 629.30,935.60" fill="#111"/><line x1="663.4" y1="934.3" x2="678.4" y2="934.3" stroke="#9c9c9c" stroke-width="0.7"/><polygon points="663.40,934.30 669.40,933.00 669.40,935.60" fill="#111"/><clipPath id="c3"><rect x="600" y="935" width="100" height="10.7"/></clipPath><text x="636.2" y="950.0" font-size="10" fill="#262626" stroke="#262626" stroke-width="0.3" textLength="26.4" lengthAdjust="spacingAndGlyphs" clip-path="url(#c3)">1/4 NPT</text><line x1="681" y1="806.2" x2="740.5" y2="806.2" stroke="#9c9c9c" stroke-width="0.7"/><line x1="683.6" y1="876.6" x2="740.8" y2="876.6" stroke="#9c9c9c" stroke-width="0.7"/><line x1="667" y1="904.4" x2="740.8" y2="904.4" stroke="#9c9c9c" stroke-width="0.7"/><line x1="734.2" y1="790.5" x2="734.2" y2="806.2" stroke="#555" stroke-width="0.6"/><polygon points="734.20,806.20 732.60,799.20 735.80,799.20" fill="#111"/><text transform="translate(737.2,864) rotate(-90)" x="0" y="0" font-size="10.5" fill="#262626" stroke="#262626" stroke-width="0.3" textLength="51.2" lengthAdjust="spacingAndGlyphs">1.29  (33 mm)</text><polygon points="734.10,876.60 732.50,883.60 735.70,883.60" fill="#111"/><polygon points="734.10,904.40 732.50,897.40 735.70,897.40" fill="#111"/><line x1="734.1" y1="876.6" x2="734.1" y2="919.3" stroke="#555" stroke-width="0.6"/><line x1="726.7" y1="919.3" x2="734.1" y2="919.3" stroke="#555" stroke-width="0.6"/><text x="681.4" y="916.7" font-size="10" fill="#262626" stroke="#262626" stroke-width="0.3" textLength="44.4" lengthAdjust="spacingAndGlyphs">.51 (13 mm)</text><path transform="translate(573.8,813.3) scale(1.0)" d="M6.9,0.8 L14.2,0 L11.7,8.2 C14,9.3 15.2,11.3 15.2,13.6 C15.2,16.5 13.8,18.8 11.6,19.9 L11.2,19.9 L11.2,15.6 C11.2,13.6 9.6,12.3 7.4,12.3 C5.2,12.3 3.6,13.6 3.6,15.6 L3.6,19.9 L3.2,19.9 C1.2,18.8 0,16.5 0,13.6 C0,10.6 2.2,8.2 5.1,7.6 Z" fill="#000"/><text x="594.9" y="829.7" font-size="10" fill="#262626" stroke="#262626" stroke-width="0.3" textLength="15" lengthAdjust="spacingAndGlyphs">1.06</text><text x="590.5" y="840.7" font-size="10" fill="#262626" stroke="#262626" stroke-width="0.3" textLength="25.8" lengthAdjust="spacingAndGlyphs">(27mm)</text><line x1="566.8" y1="845.5" x2="577" y2="845.5" stroke="#9c9c9c" stroke-width="0.7"/><line x1="584.7" y1="845.5" x2="594" y2="845.5" stroke="#9c9c9c" stroke-width="0.7"/><line x1="577" y1="839.5" x2="577" y2="845.5" stroke="#9c9c9c" stroke-width="0.7"/><line x1="584.7" y1="839.5" x2="584.7" y2="845.5" stroke="#9c9c9c" stroke-width="0.7"/><polygon points="577.00,845.50 573.00,844.50 573.00,846.50" fill="#111"/><polygon points="584.70,845.50 588.70,844.50 588.70,846.50" fill="#111"/><line x1="594" y1="845.5" x2="618.6" y2="868.3" stroke="#9c9c9c" stroke-width="0.7"/><line x1="753.4" y1="677" x2="753.4" y2="951" stroke="#222" stroke-width="1.3"/><line x1="839" y1="593" x2="839" y2="610" stroke="#666" stroke-width="0.6"/><rect x="835.2" y="608.3" width="7.30" height="15.60" rx="0" fill="#b5b5b5" stroke="#979797" stroke-width="0.6"/><line x1="836.5" y1="609" x2="836.5" y2="623.5" stroke="#8a8a8a" stroke-width="0.5"/><line x1="838" y1="609" x2="838" y2="623.5" stroke="#8a8a8a" stroke-width="0.5"/><line x1="839.5" y1="609" x2="839.5" y2="623.5" stroke="#8a8a8a" stroke-width="0.5"/><line x1="841" y1="609" x2="841" y2="623.5" stroke="#8a8a8a" stroke-width="0.5"/><rect x="835" y="623.9" width="4.00" height="9.40" rx="0" fill="none" stroke="#979797" stroke-width="0.6"/><rect x="839" y="623.9" width="3.50" height="9.40" rx="0" fill="none" stroke="#979797" stroke-width="0.6"/><rect x="835" y="635.3" width="4.00" height="17.80" rx="0" fill="none" stroke="#979797" stroke-width="0.6"/><rect x="839" y="635.3" width="3.50" height="17.80" rx="0" fill="none" stroke="#979797" stroke-width="0.6"/><rect x="832" y="653.1" width="14.60" height="56.70" rx="0" fill="none" stroke="#979797" stroke-width="0.8"/><rect x="831.3" y="715.3" width="15.30" height="11.70" rx="0" fill="none" stroke="#979797" stroke-width="0.8"/><rect x="828.9" y="727" width="20.80" height="44.30" rx="0" fill="none" stroke="#979797" stroke-width="0.8"/><line x1="839" y1="693" x2="839" y2="753.6" stroke="#666" stroke-width="0.6"/><polygon points="826.6,771.3 851.6,771.3 860.6,804.4 817.5,804.4" fill="none" stroke="#979797" stroke-width="0.8"/><rect x="817.5" y="804.4" width="43.10" height="8.60" rx="0" fill="none" stroke="#979797" stroke-width="0.8"/><rect x="807.5" y="813.4" width="63.10" height="28.50" rx="2.5" fill="none" stroke="#979797" stroke-width="0.8"/><line x1="807.5" y1="828.1" x2="932.8" y2="828.1" stroke="#9c9c9c" stroke-width="0.7"/><polygon points="808.00,828.10 815.00,826.50 815.00,829.70" fill="#111"/><polygon points="870.10,828.10 863.10,826.50 863.10,829.70" fill="#111"/><text x="877.3" y="826.3" font-size="10" fill="#262626" stroke="#262626" stroke-width="0.3" textLength="49" lengthAdjust="spacingAndGlyphs">1.14 (29 mm)</text><rect x="809.7" y="841.9" width="59.10" height="26.70" rx="0" fill="none" stroke="#979797" stroke-width="0.8"/><rect x="806.7" y="868.6" width="65.20" height="15.70" rx="3" fill="none" stroke="#979797" stroke-width="0.8"/><line x1="820.6" y1="869.2" x2="820.6" y2="883.6999999999999" stroke="#979797" stroke-width="0.8"/><line x1="826.4" y1="869.2" x2="826.4" y2="883.6999999999999" stroke="#979797" stroke-width="0.8"/><line x1="852.4" y1="869.2" x2="852.4" y2="883.6999999999999" stroke="#979797" stroke-width="0.8"/><line x1="858.2" y1="869.2" x2="858.2" y2="883.6999999999999" stroke="#979797" stroke-width="0.8"/><path d="M826.4,869.6 Q839.4,867.4 852.4,869.6" fill="none" stroke="#979797" stroke-width="0.7"/><rect x="824.3" y="884.3" width="29.80" height="28.10" rx="0" fill="none" stroke="#979797" stroke-width="0.8"/><line x1="825.9" y1="887.3" x2="825.9" y2="911.4" stroke="#979797" stroke-width="0.6"/><line x1="852.5" y1="887.3" x2="852.5" y2="911.4" stroke="#979797" stroke-width="0.6"/><line x1="825.9" y1="887.3" x2="852.5" y2="887.3" stroke="#979797" stroke-width="0.6"/><line x1="825.9" y1="911.1999999999999" x2="852.5" y2="911.1999999999999" stroke="#979797" stroke-width="0.6"/><line x1="839.1" y1="813" x2="839.1" y2="917.2" stroke="#666" stroke-width="0.6"/><line x1="824.3" y1="912.4" x2="824.3" y2="937.7" stroke="#9c9c9c" stroke-width="0.7"/><line x1="854.1" y1="912.4" x2="854.1" y2="937.7" stroke="#9c9c9c" stroke-width="0.7"/><line x1="809.3" y1="931.5" x2="824.3" y2="931.5" stroke="#9c9c9c" stroke-width="0.7"/><polygon points="824.30,931.50 818.30,930.20 818.30,932.80" fill="#111"/><line x1="854.1" y1="931.5" x2="868.8" y2="931.5" stroke="#9c9c9c" stroke-width="0.7"/><polygon points="854.10,931.50 860.10,930.20 860.10,932.80" fill="#111"/><text x="825.8" y="948.5" font-size="10" fill="#262626" stroke="#262626" stroke-width="0.3" textLength="29.7" lengthAdjust="spacingAndGlyphs">1/4 NPT</text><line x1="847.7" y1="608.3" x2="926.6" y2="608.3" stroke="#9c9c9c" stroke-width="0.7"/><line x1="850" y1="653.1" x2="946" y2="653.1" stroke="#9c9c9c" stroke-width="0.7"/><line x1="920.3" y1="608.3" x2="920.3" y2="621" stroke="#555" stroke-width="0.6"/><line x1="920.3" y1="637" x2="920.3" y2="653.1" stroke="#555" stroke-width="0.6"/><polygon points="920.30,608.30 918.70,615.30 921.90,615.30" fill="#111"/><polygon points="920.30,653.10 918.70,646.10 921.90,646.10" fill="#111"/><text x="901.9" y="632.5" font-size="10" fill="#262626" stroke="#262626" stroke-width="0.3" textLength="50" lengthAdjust="spacingAndGlyphs">2.36 (60 mm)</text><line x1="816.4" y1="675.5" x2="923.4" y2="675.5" stroke="#9c9c9c" stroke-width="0.7"/><polygon points="832.00,675.50 825.00,673.90 825.00,677.10" fill="#111"/><polygon points="846.60,675.50 853.60,673.90 853.60,677.10" fill="#111"/><text x="855.9" y="672.3" font-size="10" fill="#262626" stroke="#262626" stroke-width="0.3" textLength="50.4" lengthAdjust="spacingAndGlyphs">02.6 (66 mm)</text><line x1="946.6" y1="653.1" x2="946.6" y2="790.3" stroke="#555" stroke-width="0.6"/><polygon points="946.60,653.10 945.00,660.10 948.20,660.10" fill="#111"/><polygon points="946.60,771.30 945.00,764.30 948.20,764.30" fill="#111"/><polygon points="946.60,771.30 945.00,778.30 948.20,778.30" fill="#111"/><text transform="translate(941.4,741) rotate(-90)" x="0" y="0" font-size="10.5" fill="#262626" stroke="#262626" stroke-width="0.3" textLength="61" lengthAdjust="spacingAndGlyphs">78.74  (200 mm)</text><line x1="855.5" y1="771.3" x2="953.1" y2="771.3" stroke="#9c9c9c" stroke-width="0.7"/><text transform="translate(949.3,855.2) rotate(-90)" x="0" y="0" font-size="10.5" fill="#262626" stroke="#262626" stroke-width="0.3" textLength="59.4" lengthAdjust="spacingAndGlyphs">2.06  (52.4 mm)</text><line x1="946.8" y1="858.7" x2="946.8" y2="884.3" stroke="#555" stroke-width="0.6"/><polygon points="946.80,884.30 945.20,877.30 948.40,877.30" fill="#111"/><line x1="873.5" y1="884.3" x2="952.9" y2="884.3" stroke="#9c9c9c" stroke-width="0.7"/><line x1="856.5" y1="912.4" x2="934.5" y2="912.4" stroke="#9c9c9c" stroke-width="0.7"/><line x1="921.1" y1="884.3" x2="921.1" y2="923.3" stroke="#555" stroke-width="0.6"/><line x1="914" y1="923.3" x2="921.1" y2="923.3" stroke="#555" stroke-width="0.6"/><polygon points="921.10,884.30 919.50,891.30 922.70,891.30" fill="#111"/><polygon points="921.10,912.40 919.50,905.40 922.70,905.40" fill="#111"/><text x="864.7" y="924.3" font-size="10" fill="#262626" stroke="#262626" stroke-width="0.3" textLength="44.5" lengthAdjust="spacingAndGlyphs">.51 (13 mm)</text><path transform="translate(762.8,822.0) scale(1.0)" d="M6.9,0.8 L14.2,0 L11.7,8.2 C14,9.3 15.2,11.3 15.2,13.6 C15.2,16.5 13.8,18.8 11.6,19.9 L11.2,19.9 L11.2,15.6 C11.2,13.6 9.6,12.3 7.4,12.3 C5.2,12.3 3.6,13.6 3.6,15.6 L3.6,19.9 L3.2,19.9 C1.2,18.8 0,16.5 0,13.6 C0,10.6 2.2,8.2 5.1,7.6 Z" fill="#000"/><text x="785.4" y="839.2" font-size="10" fill="#262626" stroke="#262626" stroke-width="0.3" textLength="15" lengthAdjust="spacingAndGlyphs">1.06</text><text x="780.2" y="850.5" font-size="10" fill="#262626" stroke="#262626" stroke-width="0.3" textLength="25" lengthAdjust="spacingAndGlyphs">(27mm)</text><line x1="755" y1="855" x2="766.3" y2="855" stroke="#9c9c9c" stroke-width="0.7"/><line x1="773.9" y1="855" x2="785.8" y2="855" stroke="#9c9c9c" stroke-width="0.7"/><line x1="766.3" y1="849" x2="766.3" y2="855" stroke="#9c9c9c" stroke-width="0.7"/><line x1="773.9" y1="849" x2="773.9" y2="855" stroke="#9c9c9c" stroke-width="0.7"/><polygon points="766.30,855.00 762.30,854.00 762.30,856.00" fill="#111"/><polygon points="773.90,855.00 777.90,854.00 777.90,856.00" fill="#111"/><line x1="785.8" y1="855" x2="808.7" y2="877.2" stroke="#9c9c9c" stroke-width="0.7"/><rect x="243.1" y="1081.1" width="63.80" height="35.50" rx="0" fill="none" stroke="#979797" stroke-width="0.8"/><line x1="243.1" y1="1085.3" x2="306.9" y2="1085.3" stroke="#979797" stroke-width="0.6"/><line x1="243.1" y1="1087.3" x2="306.9" y2="1087.3" stroke="#979797" stroke-width="0.6"/><line x1="275.9" y1="1077.2" x2="275.9" y2="1167.8" stroke="#666" stroke-width="0.6"/><rect x="240" y="1116.6" width="69.50" height="16.80" rx="3" fill="none" stroke="#979797" stroke-width="0.8"/><line x1="254.4" y1="1117.1999999999998" x2="254.4" y2="1132.8000000000002" stroke="#979797" stroke-width="0.8"/><line x1="261.1" y1="1117.1999999999998" x2="261.1" y2="1132.8000000000002" stroke="#979797" stroke-width="0.8"/><line x1="288.4" y1="1117.1999999999998" x2="288.4" y2="1132.8000000000002" stroke="#979797" stroke-width="0.8"/><line x1="295.5" y1="1117.1999999999998" x2="295.5" y2="1132.8000000000002" stroke="#979797" stroke-width="0.8"/><path d="M261.1,1117.6 Q274.75,1115.3999999999999 288.4,1117.6" fill="none" stroke="#979797" stroke-width="0.7"/><rect x="258.8" y="1133.4" width="32.80" height="31.00" rx="0" fill="none" stroke="#979797" stroke-width="0.8"/><line x1="260.40000000000003" y1="1136.4" x2="260.40000000000003" y2="1163.4" stroke="#979797" stroke-width="0.6"/><line x1="290.0" y1="1136.4" x2="290.0" y2="1163.4" stroke="#979797" stroke-width="0.6"/><line x1="260.40000000000003" y1="1136.4" x2="290.0" y2="1136.4" stroke="#979797" stroke-width="0.6"/><line x1="260.40000000000003" y1="1163.2" x2="290.0" y2="1163.2" stroke="#979797" stroke-width="0.6"/><line x1="258.8" y1="1164.4" x2="258.8" y2="1182.7" stroke="#9c9c9c" stroke-width="0.7"/><line x1="291.6" y1="1164.4" x2="291.6" y2="1182.7" stroke="#9c9c9c" stroke-width="0.7"/><line x1="258.8" y1="1181.9" x2="291.6" y2="1181.9" stroke="#9c9c9c" stroke-width="0.7"/><polygon points="258.80,1181.90 263.80,1180.80 263.80,1183.00" fill="#111"/><polygon points="291.60,1181.90 286.60,1180.80 286.60,1183.00" fill="#111"/><text x="294.7" y="1179.5" font-size="10" fill="#262626" stroke="#262626" stroke-width="0.3" textLength="31" lengthAdjust="spacingAndGlyphs">1/4 NPT</text><line x1="234.5" y1="1133.4" x2="234.5" y2="1163.9" stroke="#555" stroke-width="0.6"/><line x1="234.5" y1="1133.4" x2="243.9" y2="1133.4" stroke="#9c9c9c" stroke-width="0.7"/><line x1="234.5" y1="1163.9" x2="258.8" y2="1163.9" stroke="#9c9c9c" stroke-width="0.7"/><polygon points="234.50,1133.40 233.70,1136.40 235.30,1136.40" fill="#111"/><polygon points="234.50,1163.90 233.70,1160.90 235.30,1160.90" fill="#111"/><text transform="translate(230.6,1172.5) rotate(-90)" x="0" y="0" font-size="10.5" fill="#262626" stroke="#262626" stroke-width="0.3" textLength="46.9" lengthAdjust="spacingAndGlyphs">.51  (13 mm)</text><path transform="translate(178.3,1076.9) scale(1.0)" d="M6.9,0.8 L14.2,0 L11.7,8.2 C14,9.3 15.2,11.3 15.2,13.6 C15.2,16.5 13.8,18.8 11.6,19.9 L11.2,19.9 L11.2,15.6 C11.2,13.6 9.6,12.3 7.4,12.3 C5.2,12.3 3.6,13.6 3.6,15.6 L3.6,19.9 L3.2,19.9 C1.2,18.8 0,16.5 0,13.6 C0,10.6 2.2,8.2 5.1,7.6 Z" fill="#000"/><text x="211.9" y="1094.7" font-size="10" fill="#262626" stroke="#262626" stroke-width="0.3" textLength="16.4" lengthAdjust="spacingAndGlyphs">1.06</text><text x="204.8" y="1105" font-size="10" fill="#262626" stroke="#262626" stroke-width="0.3" textLength="30.8" lengthAdjust="spacingAndGlyphs">(27 mm)</text><line x1="171.3" y1="1105.6" x2="181.4" y2="1105.6" stroke="#9c9c9c" stroke-width="0.7"/><line x1="190" y1="1105.6" x2="200.2" y2="1105.6" stroke="#9c9c9c" stroke-width="0.7"/><line x1="181.4" y1="1099.6" x2="181.4" y2="1105.6" stroke="#9c9c9c" stroke-width="0.7"/><line x1="190" y1="1099.6" x2="190" y2="1105.6" stroke="#9c9c9c" stroke-width="0.7"/><polygon points="181.40,1105.60 177.40,1104.60 177.40,1106.60" fill="#111"/><polygon points="190.00,1105.60 194.00,1104.60 194.00,1106.60" fill="#111"/><line x1="200.2" y1="1105.6" x2="200.2" y2="1105.6" stroke="#9c9c9c" stroke-width="0.7"/><line x1="171.3" y1="1110.3" x2="222" y2="1110.3" stroke="#9c9c9c" stroke-width="0.7"/><line x1="222" y1="1110.3" x2="242.3" y2="1122.5" stroke="#9c9c9c" stroke-width="0.7"/><line x1="398.9" y1="1055" x2="398.9" y2="1210.4" stroke="#222" stroke-width="1.3"/><rect x="559.4" y="1081.1" width="63.10" height="34.90" rx="0" fill="none" stroke="#979797" stroke-width="0.8"/><line x1="559.4" y1="1085" x2="622.5" y2="1085" stroke="#979797" stroke-width="0.6"/><line x1="590.9" y1="1073.3" x2="590.9" y2="1180.3" stroke="#666" stroke-width="0.6"/><rect x="556.3" y="1116" width="69.30" height="17.10" rx="3" fill="none" stroke="#979797" stroke-width="0.8"/><line x1="570.3" y1="1116.6" x2="570.3" y2="1132.5" stroke="#979797" stroke-width="0.8"/><line x1="578.1" y1="1116.6" x2="578.1" y2="1132.5" stroke="#979797" stroke-width="0.8"/><line x1="604.2" y1="1116.6" x2="604.2" y2="1132.5" stroke="#979797" stroke-width="0.8"/><line x1="612" y1="1116.6" x2="612" y2="1132.5" stroke="#979797" stroke-width="0.8"/><path d="M578.1,1117 Q591.1500000000001,1114.8 604.2,1117" fill="none" stroke="#979797" stroke-width="0.7"/><rect x="565.2" y="1133.1" width="51.10" height="44.40" rx="0" fill="none" stroke="#979797" stroke-width="0.8"/><line x1="569" y1="1139.7" x2="569" y2="1175.6" stroke="#979797" stroke-width="0.6"/><line x1="612.5" y1="1139.7" x2="612.5" y2="1175.6" stroke="#979797" stroke-width="0.6"/><line x1="565.2" y1="1139.7" x2="616.3" y2="1139.7" stroke="#979797" stroke-width="0.6"/><line x1="565.2" y1="1175.6" x2="616.3" y2="1175.6" stroke="#979797" stroke-width="0.6"/><line x1="565.2" y1="1177.5" x2="565.2" y2="1199" stroke="#9c9c9c" stroke-width="0.7"/><line x1="616.3" y1="1177.5" x2="616.3" y2="1199" stroke="#9c9c9c" stroke-width="0.7"/><line x1="565.2" y1="1198.3" x2="616.3" y2="1198.3" stroke="#9c9c9c" stroke-width="0.7"/><polygon points="565.20,1198.30 570.20,1197.20 570.20,1199.40" fill="#111"/><polygon points="616.30,1198.30 611.30,1197.20 611.30,1199.40" fill="#111"/><text x="577.2" y="1194.7" font-size="10" fill="#262626" stroke="#262626" stroke-width="0.3" textLength="30.6" lengthAdjust="spacingAndGlyphs">1/2 NPT</text><line x1="542.2" y1="1133.4" x2="542.2" y2="1176.9" stroke="#555" stroke-width="0.6"/><line x1="542.2" y1="1133.4" x2="555" y2="1133.4" stroke="#9c9c9c" stroke-width="0.7"/><line x1="542.2" y1="1176.9" x2="562.8" y2="1176.9" stroke="#9c9c9c" stroke-width="0.7"/><polygon points="542.20,1133.40 541.40,1136.40 543.00,1136.40" fill="#111"/><polygon points="542.20,1176.90 541.40,1173.90 543.00,1173.90" fill="#111"/><text transform="translate(537.3,1178) rotate(-90)" x="0" y="0" font-size="10.5" fill="#262626" stroke="#262626" stroke-width="0.3" textLength="45.8" lengthAdjust="spacingAndGlyphs">.75  (19 mm)</text><path transform="translate(495.3,1074.8) scale(1.0)" d="M6.9,0.8 L14.2,0 L11.7,8.2 C14,9.3 15.2,11.3 15.2,13.6 C15.2,16.5 13.8,18.8 11.6,19.9 L11.2,19.9 L11.2,15.6 C11.2,13.6 9.6,12.3 7.4,12.3 C5.2,12.3 3.6,13.6 3.6,15.6 L3.6,19.9 L3.2,19.9 C1.2,18.8 0,16.5 0,13.6 C0,10.6 2.2,8.2 5.1,7.6 Z" fill="#000"/><text x="529.2" y="1093.6" font-size="10" fill="#262626" stroke="#262626" stroke-width="0.3" textLength="15.6" lengthAdjust="spacingAndGlyphs">1.06</text><text x="522.2" y="1104.5" font-size="10" fill="#262626" stroke="#262626" stroke-width="0.3" textLength="30.5" lengthAdjust="spacingAndGlyphs">(27 mm)</text><line x1="488.6" y1="1105.3" x2="498.8" y2="1105.3" stroke="#9c9c9c" stroke-width="0.7"/><line x1="506.6" y1="1105.3" x2="517.5" y2="1105.3" stroke="#9c9c9c" stroke-width="0.7"/><line x1="498.8" y1="1099.3" x2="498.8" y2="1105.3" stroke="#9c9c9c" stroke-width="0.7"/><line x1="506.6" y1="1099.3" x2="506.6" y2="1105.3" stroke="#9c9c9c" stroke-width="0.7"/><polygon points="498.80,1105.30 494.80,1104.30 494.80,1106.30" fill="#111"/><polygon points="506.60,1105.30 510.60,1104.30 510.60,1106.30" fill="#111"/><line x1="517.5" y1="1105.3" x2="517.5" y2="1105.3" stroke="#9c9c9c" stroke-width="0.7"/><line x1="488.6" y1="1109.7" x2="538.6" y2="1109.7" stroke="#9c9c9c" stroke-width="0.7"/><line x1="538.6" y1="1109.7" x2="559.7" y2="1123.3" stroke="#9c9c9c" stroke-width="0.7"/><line x1="683.6" y1="1060" x2="683.6" y2="1215.4" stroke="#222" stroke-width="1.3"/><rect x="811.2" y="1079.1" width="63.40" height="35.20" rx="0" fill="none" stroke="#979797" stroke-width="0.8"/><line x1="811.2" y1="1083.6" x2="874.6" y2="1083.6" stroke="#979797" stroke-width="0.6"/><line x1="811.2" y1="1085.2" x2="874.6" y2="1085.2" stroke="#979797" stroke-width="0.6"/><line x1="842.4" y1="1073.3" x2="842.4" y2="1162.5" stroke="#666" stroke-width="0.6"/><rect x="808.2" y="1114.3" width="69.40" height="17.00" rx="3" fill="none" stroke="#979797" stroke-width="0.8"/><line x1="822.5" y1="1114.8999999999999" x2="822.5" y2="1130.7" stroke="#979797" stroke-width="0.8"/><line x1="829.7" y1="1114.8999999999999" x2="829.7" y2="1130.7" stroke="#979797" stroke-width="0.8"/><line x1="856.1" y1="1114.8999999999999" x2="856.1" y2="1130.7" stroke="#979797" stroke-width="0.8"/><line x1="863.5" y1="1114.8999999999999" x2="863.5" y2="1130.7" stroke="#979797" stroke-width="0.8"/><path d="M829.7,1115.3 Q842.9000000000001,1113.1 856.1,1115.3" fill="none" stroke="#979797" stroke-width="0.7"/><rect x="825.2" y="1131.3" width="34.40" height="7.20" rx="0" fill="none" stroke="#979797" stroke-width="0.8"/><rect x="831.7" y="1138.5" width="21.50" height="4.50" rx="0" fill="none" stroke="#979797" stroke-width="0.8"/><rect x="829.1" y="1143" width="26.60" height="16.60" rx="2" fill="none" stroke="#979797" stroke-width="0.8"/><line x1="829.6" y1="1145.5" x2="855.2" y2="1145.5" stroke="#979797" stroke-width="0.5"/><line x1="829.6" y1="1157" x2="855.2" y2="1157" stroke="#979797" stroke-width="0.5"/><line x1="829.1" y1="1159.6" x2="829.1" y2="1175.2" stroke="#9c9c9c" stroke-width="0.7"/><line x1="855.7" y1="1159.6" x2="855.7" y2="1175.2" stroke="#9c9c9c" stroke-width="0.7"/><line x1="829.1" y1="1174.3" x2="897.1" y2="1174.3" stroke="#9c9c9c" stroke-width="0.7"/><polygon points="829.10,1174.30 834.10,1173.20 834.10,1175.40" fill="#111"/><polygon points="855.70,1174.30 850.70,1173.20 850.70,1175.40" fill="#111"/><clipPath id="c5"><rect x="850" y="1150" width="71.5" height="40"/></clipPath><text x="860" y="1171.3" font-size="10" fill="#262626" stroke="#262626" stroke-width="0.3" textLength="66" lengthAdjust="spacingAndGlyphs" clip-path="url(#c5)">7/16"-20UNF-2A</text><line x1="900.6" y1="1138.5" x2="900.6" y2="1159.2" stroke="#555" stroke-width="0.6"/><polygon points="900.60,1138.50 899.60,1142.50 901.60,1142.50" fill="#111"/><polygon points="900.60,1159.20 899.60,1155.20 901.60,1155.20" fill="#111"/><line x1="863.9" y1="1138.5" x2="902" y2="1138.5" stroke="#9c9c9c" stroke-width="0.7"/><line x1="857" y1="1159.2" x2="902" y2="1159.2" stroke="#9c9c9c" stroke-width="0.7"/><text transform="translate(897.1,1156.1) rotate(-90)" x="0" y="0" font-size="10.5" fill="#262626" stroke="#262626" stroke-width="0.3" textLength="16.4" lengthAdjust="spacingAndGlyphs">9.14</text><path transform="translate(748.3,1073.5) scale(1.0)" d="M6.9,0.8 L14.2,0 L11.7,8.2 C14,9.3 15.2,11.3 15.2,13.6 C15.2,16.5 13.8,18.8 11.6,19.9 L11.2,19.9 L11.2,15.6 C11.2,13.6 9.6,12.3 7.4,12.3 C5.2,12.3 3.6,13.6 3.6,15.6 L3.6,19.9 L3.2,19.9 C1.2,18.8 0,16.5 0,13.6 C0,10.6 2.2,8.2 5.1,7.6 Z" fill="#000"/><text x="779" y="1092.2" font-size="10" fill="#262626" stroke="#262626" stroke-width="0.3" textLength="16.2" lengthAdjust="spacingAndGlyphs">1.06</text><text x="773.1" y="1103" font-size="10" fill="#262626" stroke="#262626" stroke-width="0.3" textLength="30.7" lengthAdjust="spacingAndGlyphs">(27 mm)</text><line x1="741.8" y1="1105.3" x2="752.2" y2="1105.3" stroke="#9c9c9c" stroke-width="0.7"/><line x1="759.4" y1="1105.3" x2="769.2" y2="1105.3" stroke="#9c9c9c" stroke-width="0.7"/><line x1="752.2" y1="1099.3" x2="752.2" y2="1105.3" stroke="#9c9c9c" stroke-width="0.7"/><line x1="759.4" y1="1099.3" x2="759.4" y2="1105.3" stroke="#9c9c9c" stroke-width="0.7"/><polygon points="752.20,1105.30 748.20,1104.30 748.20,1106.30" fill="#111"/><polygon points="759.40,1105.30 763.40,1104.30 763.40,1106.30" fill="#111"/><line x1="769.2" y1="1105.3" x2="769.2" y2="1105.3" stroke="#9c9c9c" stroke-width="0.7"/><line x1="742" y1="1109.8" x2="790.7" y2="1109.8" stroke="#9c9c9c" stroke-width="0.7"/><line x1="790.7" y1="1109.8" x2="813.1" y2="1123.5" stroke="#9c9c9c" stroke-width="0.7"/></svg>
</body></html>
